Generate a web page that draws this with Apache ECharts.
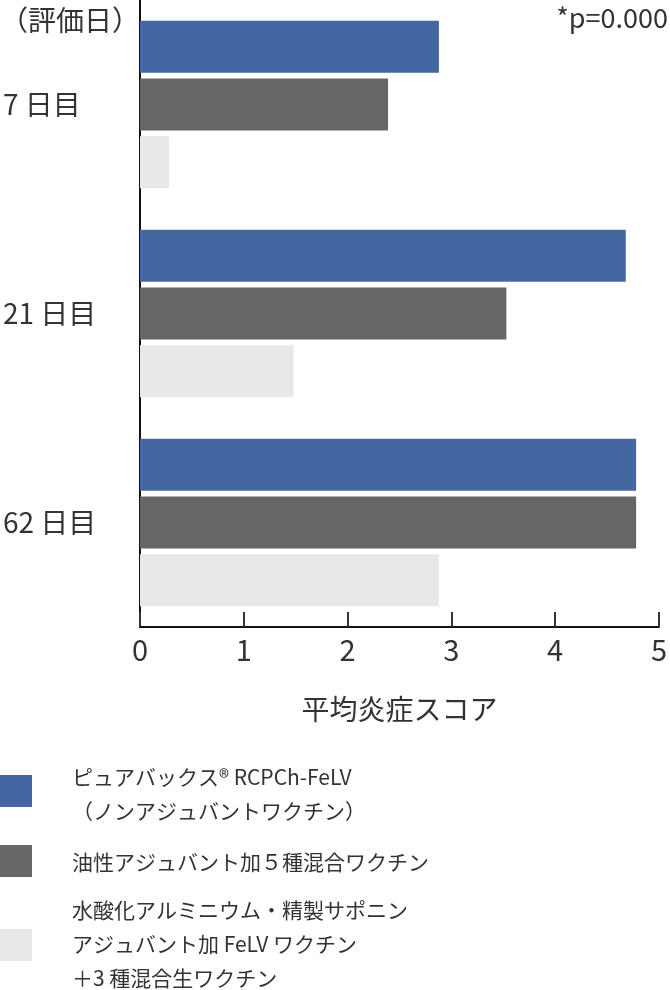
<!DOCTYPE html>
<html><head><meta charset="utf-8">
<script src="https://cdn.jsdelivr.net/npm/echarts@6/dist/echarts.min.js"></script>
<style>html,body{margin:0;padding:0;background:#fff}#c{width:670px;height:990px}</style>
</head><body><div id="c"></div>
<script>
const categories = ['7 日目', '21 日目', '62 日目'];
const seriesNames = ['ピュアバックス® RCPCh-FeLV\n（ノンアジュバントワクチン）', '油性アジュバント加５種混合ワクチン', '水酸化アルミニウム・精製サポニン\nアジュバント加 FeLV ワクチン\n＋3 種混合生ワクチン'];
const blueValues = [2.88, 4.68, 4.78];
const grayValues = [2.39, 3.53, 4.78];
const lightValues = [0.28, 1.48, 2.88];
const colors = ['#4467a1', '#666666', '#e8e8e8'];
const xTicks = [0, 1, 2, 3, 4, 5];
const font = '"Noto Sans CJK JP", "Noto Sans", sans-serif';

const chart = echarts.init(document.getElementById('c'));
const mk = (name, data, color) => ({
  name, type: 'bar', data, barWidth: 52, barGap: '11%', barCategoryGap: '21%',
  itemStyle: { color }, silent: true
});
const legendY = [775, 845, 929];
const legendTextY = [760, 845, 893];
const graphics = [
  { type: 'text', left: 0, top: 6, style: { text: '（評価日）', font: '28px ' + font, fill: '#333' } },
  { type: 'text', right: 2, top: 4, style: { text: '*p=0.000', font: '27px ' + font, fill: '#333' } }
];
seriesNames.forEach((n, i) => {
  graphics.push({ type: 'rect', shape: { x: 0, y: legendY[i], width: 32, height: 32 }, style: { fill: colors[i] } });
  graphics.push({ type: 'text', left: 72, top: legendTextY[i], style: { text: n, font: '21px ' + font, fill: '#333', lineHeight: 34 } });
});
chart.setOption({
  animation: false,
  textStyle: { fontFamily: font },
  grid: { left: 137, right: 8, top: -16, height: 643, containLabel: false },
  xAxis: {
    type: 'value', min: 0, max: 5, interval: 1, data: xTicks,
    axisLine: { show: true, lineStyle: { color: '#111', width: 2 } },
    axisTick: { show: true, inside: true, length: 15, lineStyle: { color: '#333', width: 2 } },
    axisLabel: { fontSize: 29, color: '#333', margin: 8 },
    splitLine: { show: false },
    name: '平均炎症スコア', nameLocation: 'middle', nameGap: 68,
    nameTextStyle: { fontSize: 28, color: '#333' }
  },
  yAxis: {
    type: 'category', data: categories, inverse: true,
    axisLine: { show: true, lineStyle: { color: '#111', width: 2 } },
    axisTick: { show: false },
    axisLabel: { fontSize: 28, color: '#333', align: 'left', margin: 137 }
  },
  graphic: graphics,
  series: [mk(seriesNames[0], blueValues, colors[0]), mk(seriesNames[1], grayValues, colors[1]), mk(seriesNames[2], lightValues, colors[2])]
});
</script></body></html>
